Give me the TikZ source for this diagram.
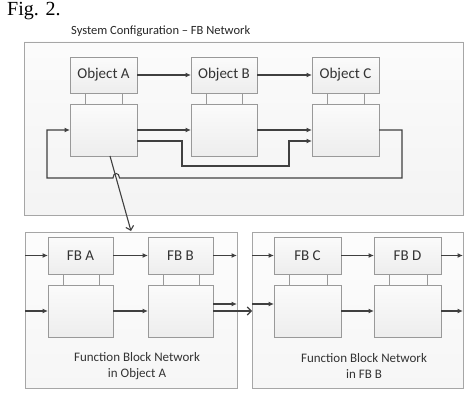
\documentclass[tikz,border=0pt]{standalone}
\usepackage{fontspec}
\setmainfont{Carlito}
\newfontfamily\serifff{Liberation Serif}
\usetikzlibrary{arrows.meta,calc}
\begin{document}
\begin{tikzpicture}[x=1pt,y=-1pt,
 frame/.style={draw=gray!70, line width=0.9pt, top color=gray!3, bottom color=gray!9, anchor=north west, inner sep=0pt, outer sep=0pt},
 blk/.style={draw=gray!80, line width=0.8pt, top color=gray!3, bottom color=gray!14, anchor=north west, inner sep=0pt, outer sep=0pt, font=\fontsize{15}{18}\selectfont, text=black!80},
 stub/.style={draw=gray!80, line width=0.8pt},
 conn/.style={draw=black!75, line width=1.1pt, -{Latex[length=5.5pt,width=5pt]}},
 openar/.style={draw=black!75, line width=1.1pt, -{Straight Barb[length=4pt,width=8pt]}},
 lbl/.style={font=\fontsize{13}{16}\selectfont, align=center, text=black!80}
 ]
\useasboundingbox (0,0) rectangle (474,412);
\fill[white] (0,0) rectangle (474,412);

\node[anchor=base west, inner sep=0pt, font=\serifff\fontsize{20}{24}\selectfont] (fig) at (7,16) {Fig. 2.};
\node[anchor=base west, inner sep=0pt, font=\fontsize{12.5}{15}\selectfont, text=black!85] (title) at (71,35) {System Configuration – FB Network};

% system frame
\node[frame, minimum width=439pt, minimum height=173pt] (sys) at (24,42) {};
\node[blk, minimum width=67pt, minimum height=36pt] (oa) at (70,57) {Object A};
\node[blk, minimum width=66pt, minimum height=36pt] (ob) at (191,57) {Object B};
\node[blk, minimum width=67pt, minimum height=36pt] (oc) at (312,57) {Object C};
\node[blk, minimum width=67pt, minimum height=52pt] (la) at (70,104) {};
\node[blk, minimum width=66pt, minimum height=52pt] (lb) at (191,104) {};
\node[blk, minimum width=67pt, minimum height=52pt] (lc) at (312,104) {};
\foreach \u/\l in {oa/la,ob/lb,oc/lc}{
  \draw[stub] ($(\u.south west)+(15,0)$) -- ($(\l.north west)+(15,0)$);
  \draw[stub] ($(\u.south east)+(-15,0)$) -- ($(\l.north east)+(-15,0)$);
}
\draw[conn] (oa) -- (ob);
\draw[conn] (ob) -- (oc);
\draw[conn] (la) -- (lb);
\draw[conn] (lb) -- (lc);
\coordinate (p1) at (182,141);
\coordinate (p2) at (289,166);
\draw[conn] (la.east |- p1) -- (p1) -- (p1 |- p2) -- (p2) -- (p2 |- p1) -- (lc.west |- p1);
\coordinate (r1) at (402,178);
\coordinate (r2) at (47,178);
\draw[conn] (lc.east) -- (lc.east -| r1) -- (r1) -- (119.5,178) .. controls (119.5,172) and (113,172) .. (113,178) -- (r2) -- (r2 |- la.west) -- (la.west);

% lower frames
\node[frame, minimum width=212pt, minimum height=156pt, top color=gray!2, bottom color=gray!7] (L) at (25,232) {};
\node[frame, minimum width=211pt, minimum height=156pt, top color=gray!2, bottom color=gray!7] (R) at (252,232) {};

\coordinate (d1) at (110,156);
\draw[openar] (d1) -- (131,231);

\node[blk, minimum width=65pt, minimum height=37pt] (fa) at (48,237) {FB A};
\node[blk, minimum width=65pt, minimum height=37pt] (fb) at (148,237) {FB B};
\node[blk, minimum width=67pt, minimum height=37pt] (fc) at (274,237) {FB C};
\node[blk, minimum width=67pt, minimum height=37pt] (fd) at (374,237) {FB D};
\node[blk, minimum width=65pt, minimum height=52pt] (lfa) at (48,285) {};
\node[blk, minimum width=65pt, minimum height=52pt] (lfb) at (148,285) {};
\node[blk, minimum width=67pt, minimum height=52pt] (lfc) at (274,285) {};
\node[blk, minimum width=67pt, minimum height=52pt] (lfd) at (374,285) {};
\foreach \u/\l in {fa/lfa,fb/lfb,fc/lfc,fd/lfd}{
  \draw[stub] ($(\u.south west)+(15,0)$) -- ($(\l.north west)+(15,0)$);
  \draw[stub] ($(\u.south east)+(-14,0)$) -- ($(\l.north east)+(-14,0)$);
}
\draw[conn] (L.west |- fa.west) -- (fa.west);
\draw[conn] (L.west |- lfa.west) -- (lfa.west);
\draw[conn] (fa) -- (fb);
\draw[conn] (lfa) -- (lfb);
\draw[conn] (fb.east) -- (fb.east -| L.east);
\draw[conn] ($(lfb.east)+(0,-7)$) -- ($(lfb.east -| L.east)+(0,-7)$);
\draw[openar] (lfb.east) -- (lfb.east -| R.west);

\draw[conn] (R.west |- fc.west) -- (fc.west);
\draw[conn] ($(R.west |- lfc.west)+(0,-7)$) -- ($(lfc.west)+(0,-7)$);
\draw[conn] (fc) -- (fd);
\draw[conn] (lfc) -- (lfd);
\draw[conn] (fd.east) -- (fd.east -| R.east);
\draw[conn] (lfd.east) -- (lfd.east -| R.east);

\node[lbl] (tL) at (137,366) {Function Block Network\\in Object A};
\node[lbl] (tR) at (364,366) {Function Block Network\\in FB B};
\end{tikzpicture}
\end{document}
